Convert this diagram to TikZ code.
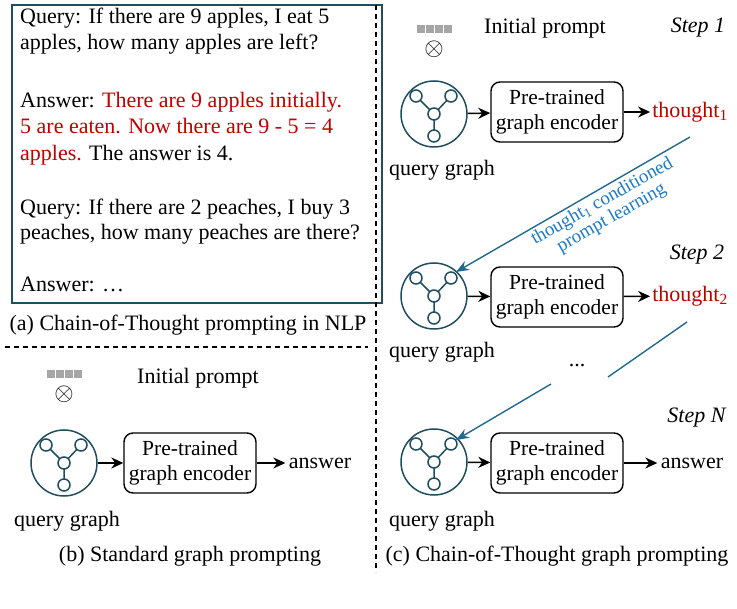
\documentclass[tikz,border=0pt]{standalone}
\usepackage{fontspec}
\setmainfont{Liberation Serif}
\usetikzlibrary{arrows.meta,calc}
\definecolor{teal}{HTML}{1F4E5F}
\definecolor{arrblue}{HTML}{22698F}
\definecolor{txtblue}{HTML}{1A7AC8}
\definecolor{myred}{HTML}{C00000}
\begin{document}
\begin{tikzpicture}[x=1pt,y=-1pt,font=\fontsize{22}{25}\selectfont,
  enc/.style={draw,rounded corners=9pt,line width=1.4pt,minimum width=132pt,minimum height=60pt,align=center,inner sep=1pt,font=\fontsize{21.5}{25}\selectfont},
  arr/.style={-{Stealth[length=12pt,width=11pt]},line width=1.5pt},
  barr/.style={-{Stealth[length=13pt,width=10pt]},arrblue,line width=1.4pt},
  lbl/.style={anchor=base west,inner sep=0},
  red/.style={text=myred},
  dsh/.style={line width=1.2pt,dash pattern=on 5pt off 4pt}]
\useasboundingbox (0,0) rectangle (737,609);
\newcommand{\qgraph}[2]{%
 \node[draw=teal,line width=1.5pt,circle,minimum size=66pt] (#2) at #1 {};
 \begin{scope}[shift={#1}]
  \draw[teal,line width=1.5pt] (-18,-18)--(0,0)--(17,-18) (0,0)--(0,22);
  \foreach \p in {(-18,-18),(17,-18),(0,0),(0,22)} \draw[teal,line width=1.5pt,fill=white] \p circle (6);
 \end{scope}}
\newcommand{\prompt}[2]{%
 \foreach \i in {0,1,2,3} \fill[gray!70] ($#1+(\i*9-17,-4)$) rectangle ++(7.5,8);
 \node[inner sep=0,font=\fontsize{24}{24}\selectfont] (#2) at ($#1+(0,20)$) {$\otimes$};}
% (a)
\node[draw=teal,line width=1.4pt,minimum width=370pt,minimum height=298pt] (boxa) at (197,154) {};
\node[lbl] (q1) at (20,24) {Query: If there are 9 apples, I eat 5};
\node[lbl] (q2) at (20,50) {apples, how many apples are left?};
\node[lbl] (a1) at (20,108) {Answer: \textcolor{myred}{There are 9 apples initially.}};
\node[lbl,red] (a2) at (20,134) {5 are eaten. Now there are 9 - 5 = 4};
\node[lbl] (a3) at (20,161) {\textcolor{myred}{apples.} The answer is 4.};
\node[lbl] (q3) at (20,215) {Query: If there are 2 peaches, I buy 3};
\node[lbl] (q4) at (20,240) {peaches, how many peaches are there?};
\node[lbl] (a4) at (20,292) {Answer: \dots};
\node (capa) at (188,325) {(a) Chain-of-Thought prompting in NLP};
\coordinate (h1) at (5,347); \coordinate (h2) at (368,347);
\draw[dsh] (h1)--(h2);
\coordinate (v1) at (376,5); \coordinate (v2) at (376,572);
\draw[dsh] (v1)--(v2);
% (b)
\prompt{(64,374)}{otb}
\node (ipb) at (198,378) {Initial prompt};
\qgraph{(64,463)}{gb}
\node[enc] (eb) at (190,463) {Pre-trained\\graph encoder};
\node (ansb) at (320,463) {answer};
\node (qgb) at (67,521) {query graph};
\draw[arr] (gb)--(eb);
\draw[arr] (eb)--(ansb);
\node (capb) at (190,556) {(b) Standard graph prompting};
% (c)
\prompt{(434,29)}{otc}
\node (ipc) at (545,28) {Initial prompt};
\node (s1) at (698,28) {\textit{Step 1}};
\qgraph{(434,114)}{g1}
\node[enc] (e1) at (557,112) {Pre-trained\\graph encoder};
\node[red,inner sep=2pt] (t1) at (690,112) {thought\textsubscript{1}};
\node (qg1) at (442,170) {query graph};
\draw[arr] (g1)--(e1);
\draw[arr] (e1)--(t1);
\node (s2) at (697,255) {\textit{Step 2}};
\qgraph{(434,296)}{g2}
\node[enc] (e2) at (557,297) {Pre-trained\\graph encoder};
\node[red,inner sep=2pt] (t2) at (690,296) {thought\textsubscript{2}};
\node (qg2) at (442,352) {query graph};
\draw[arr] (g2)--(e2);
\draw[arr] (e2)--(t2);
\node (dots) at (577,366) {...};
\node (sn) at (697,418) {\textit{Step N}};
\qgraph{(434,462)}{g3}
\node[enc] (e3) at (557,463) {Pre-trained\\graph encoder};
\node (ansc) at (692,463) {answer};
\node (qg3) at (442,521) {query graph};
\draw[arr] (g3)--(e3);
\draw[arr] (e3)--(ansc);
\node (capc) at (557,556) {(c) Chain-of-Thought graph prompting};
% blue arrows
\coordinate (b1s) at (690,137);
\draw[barr] (b1s)--(456,272) coordinate (b1e);
\node[txtblue,rotate=29.5,align=center,font=\fontsize{19}{19}\selectfont,inner sep=0] (bl) at (607,210) {thought\textsubscript{1} conditioned\\prompt learning};
\coordinate (b2s) at (687,322); \coordinate (b2m) at (608,377);
\draw[arrblue,line width=1.4pt] (b2s)--(b2m);
\coordinate (b3s) at (551,384);
\draw[barr] (b3s)--(456,440) coordinate (b3e);
\end{tikzpicture}
\end{document}
